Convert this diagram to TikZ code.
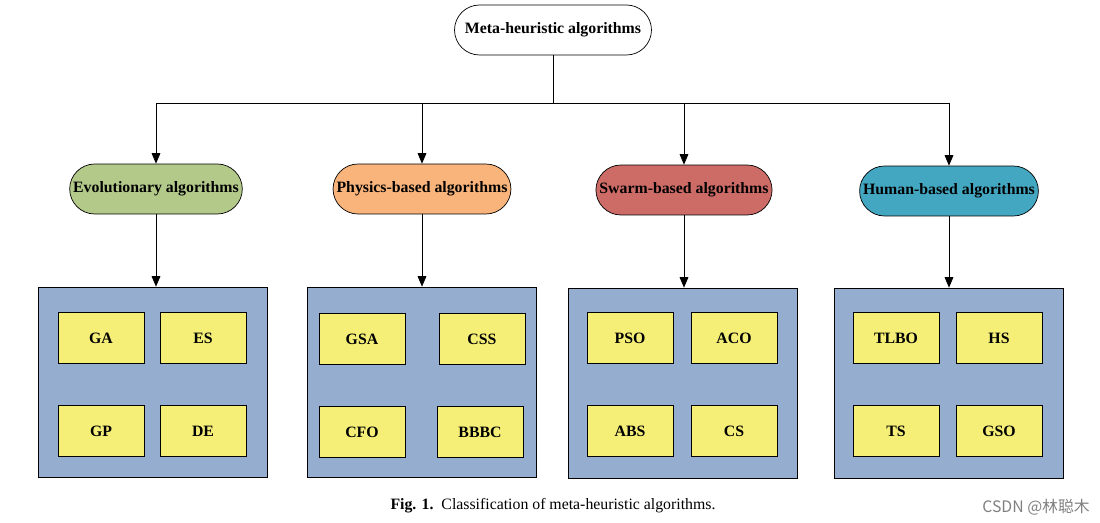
\documentclass[tikz,border=0pt]{standalone}
\usepackage{fontspec}
\setmainfont{Liberation Serif}
\newfontfamily\cjk{Noto Sans CJK SC}
\usetikzlibrary{arrows.meta}
\definecolor{cgreen}{HTML}{B3C98A}
\definecolor{corange}{HTML}{F9B47B}
\definecolor{cred}{HTML}{CD6B66}
\definecolor{cteal}{HTML}{43A7C2}
\definecolor{cblue}{HTML}{95AECF}
\definecolor{cyel}{HTML}{F5EF77}
\begin{document}
\begin{tikzpicture}[x=0.02cm,y=-0.02cm,
  top/.style={draw=black,fill=white,rounded corners=0.5cm,minimum width=3.94cm,minimum height=1.0cm,font=\bfseries\small},
  cat/.style={draw=black,rounded corners=0.5cm,minimum width=3.4cm,minimum height=1.0cm,inner xsep=2pt,font=\bfseries\small},
  grp/.style={draw=black,fill=cblue,minimum width=4.58cm,minimum height=3.8cm},
  alg/.style={draw=black,fill=cyel,minimum width=1.72cm,minimum height=1.02cm,font=\bfseries\small},
  arr/.style={-{Triangle[length=6pt,width=5pt]},black}]
\useasboundingbox (0,0) rectangle (1100,523);
\node[top] (m) at (553,30) {Meta-heuristic algorithms};
\node[cat,fill=cgreen] (c1) at (156,189) {Evolutionary algorithms};
\node[cat,fill=corange] (c2) at (422,189) {Physics-based algorithms};
\node[cat,fill=cred] (c3) at (684,190) {Swarm-based algorithms};
\node[cat,fill=cteal] (c4) at (949,191) {Human-based algorithms};
\coordinate (j) at (553,103);
\coordinate (l) at (156,103);
\coordinate (r) at (949,103);
\draw (m.south) -- (j);
\draw (l) -- (r);
\draw[arr] (l) -- (c1.north);
\draw[arr] (422,103) -- (c2.north);
\draw[arr] (684,103) -- (c3.north);
\draw[arr] (r) -- (c4.north);
\node[grp] (g1) at (153,382) {};
\node[grp] (g2) at (422,382) {};
\node[grp] (g3) at (683,383) {};
\node[grp] (g4) at (949,383) {};
\draw[arr] (c1.south) -- (c1.south |- g1.north);
\draw[arr] (c2.south) -- (c2.south |- g2.north);
\draw[arr] (c3.south) -- (c3.south |- g3.north);
\draw[arr] (c4.south) -- (c4.south |- g4.north);
\node[alg] (a1) at (101,338) {GA};
\node[alg] (a2) at (203,338) {ES};
\node[alg] (a3) at (101,431) {GP};
\node[alg] (a4) at (203,431) {DE};
\node[alg] (b1) at (362,339) {GSA};
\node[alg] (b2) at (482,339) {CSS};
\node[alg] (b3) at (362,432) {CFO};
\node[alg] (b4) at (480,432) {BBBC};
\node[alg] (s1) at (630,338) {PSO};
\node[alg] (s2) at (734,338) {ACO};
\node[alg] (s3) at (630,431) {ABS};
\node[alg] (s4) at (734,431) {CS};
\node[alg] (h1) at (896,338) {TLBO};
\node[alg] (h2) at (999,338) {HS};
\node[alg] (h3) at (896,431) {TS};
\node[alg] (h4) at (999,431) {GSO};
\node[font=\small] (cap) at (553,506) {\textbf{Fig. 1.}\ \ Classification of meta-heuristic algorithms.};
\node[font=\cjk\small,text=gray] (wm) at (1036,507) {CSDN @林聪木};
\end{tikzpicture}
\end{document}
